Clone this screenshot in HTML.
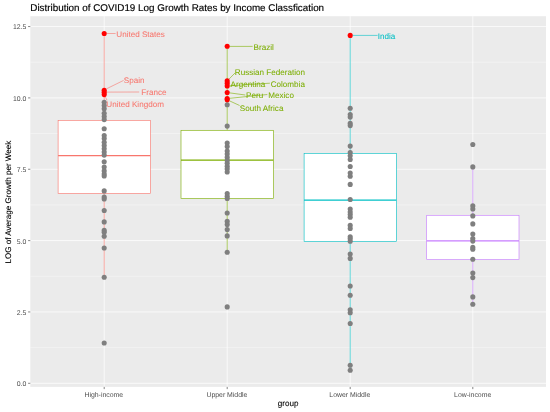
<!DOCTYPE html>
<html><head><meta charset="utf-8"><title>Distribution of COVID19 Log Growth Rates by Income Classfication</title>
<style>
html,body{margin:0;padding:0;background:#fff;}
body{width:550px;height:412px;overflow:hidden;font-family:"Liberation Sans",Arial,sans-serif;}
svg{display:block;}
text{font-family:"Liberation Sans",Arial,sans-serif;text-rendering:geometricPrecision;}
.ax{font-size:6.9px;fill:#4d4d4d;}
.at{font-size:8.1px;fill:#000;stroke:#000;stroke-width:0.1px;}
.ti{font-size:9.85px;fill:#000;stroke:#000;stroke-width:0.15px;}
.lb{font-size:8.1px;stroke-width:0.06px;}
</style></head><body>
<svg width="550" height="412" viewBox="0 0 550 412">
<rect x="0" y="0" width="550" height="412" fill="#ffffff"/>
<rect x="30.3" y="16.2" width="515.7" height="370.7" fill="#ebebeb"/>
<line x1="30.3" x2="546.0" y1="347.62" y2="347.62" stroke="#ffffff" stroke-width="0.38"/>
<line x1="30.3" x2="546.0" y1="276.28" y2="276.28" stroke="#ffffff" stroke-width="0.38"/>
<line x1="30.3" x2="546.0" y1="204.93" y2="204.93" stroke="#ffffff" stroke-width="0.38"/>
<line x1="30.3" x2="546.0" y1="133.58" y2="133.58" stroke="#ffffff" stroke-width="0.38"/>
<line x1="30.3" x2="546.0" y1="62.23" y2="62.23" stroke="#ffffff" stroke-width="0.38"/>
<line x1="30.3" x2="546.0" y1="383.30" y2="383.30" stroke="#ffffff" stroke-width="0.75"/>
<line x1="30.3" x2="546.0" y1="311.95" y2="311.95" stroke="#ffffff" stroke-width="0.75"/>
<line x1="30.3" x2="546.0" y1="240.60" y2="240.60" stroke="#ffffff" stroke-width="0.75"/>
<line x1="30.3" x2="546.0" y1="169.25" y2="169.25" stroke="#ffffff" stroke-width="0.75"/>
<line x1="30.3" x2="546.0" y1="97.90" y2="97.90" stroke="#ffffff" stroke-width="0.75"/>
<line x1="30.3" x2="546.0" y1="26.55" y2="26.55" stroke="#ffffff" stroke-width="0.75"/>
<line x1="104.2" x2="104.2" y1="16.2" y2="386.9" stroke="#ffffff" stroke-width="0.75"/>
<line x1="227.2" x2="227.2" y1="16.2" y2="386.9" stroke="#ffffff" stroke-width="0.75"/>
<line x1="350.2" x2="350.2" y1="16.2" y2="386.9" stroke="#ffffff" stroke-width="0.75"/>
<line x1="472.8" x2="472.8" y1="16.2" y2="386.9" stroke="#ffffff" stroke-width="0.75"/>
<g stroke="#F8766D" stroke-width="0.62" fill="none"><line x1="104.2" x2="104.2" y1="33.5" y2="120.4"/><line x1="104.2" x2="104.2" y1="193.5" y2="277.3"/><rect x="58.1" y="120.4" width="92.3" height="73.1" fill="#ffffff"/><line x1="58.1" x2="150.3" y1="155.5" y2="155.5" stroke-width="1.25"/></g>
<g stroke="#7CAE00" stroke-width="0.62" fill="none"><line x1="227.2" x2="227.2" y1="46.3" y2="130.3"/><line x1="227.2" x2="227.2" y1="198.5" y2="252.3"/><rect x="181.0" y="130.3" width="92.3" height="68.2" fill="#ffffff"/><line x1="181.0" x2="273.3" y1="160.1" y2="160.1" stroke-width="1.25"/></g>
<g stroke="#00BFC4" stroke-width="0.62" fill="none"><line x1="350.2" x2="350.2" y1="35.4" y2="153.4"/><line x1="350.2" x2="350.2" y1="241.4" y2="370.3"/><rect x="304.1" y="153.4" width="92.3" height="88.0" fill="#ffffff"/><line x1="304.1" x2="396.3" y1="200.2" y2="200.2" stroke-width="1.25"/></g>
<g stroke="#C77CFF" stroke-width="0.62" fill="none"><line x1="472.8" x2="472.8" y1="166.9" y2="215.3"/><line x1="472.8" x2="472.8" y1="259.4" y2="304.3"/><rect x="426.7" y="215.3" width="92.3" height="44.1" fill="#ffffff"/><line x1="426.7" x2="519.0" y1="240.9" y2="240.9" stroke-width="1.25"/></g>
<g fill="#7f7f7f"><circle cx="104.2" cy="102.2" r="2.55"/><circle cx="104.2" cy="105.5" r="2.55"/><circle cx="104.2" cy="108.7" r="2.55"/><circle cx="104.2" cy="113.2" r="2.55"/><circle cx="104.2" cy="116.6" r="2.55"/><circle cx="104.2" cy="119.6" r="2.55"/><circle cx="104.2" cy="128.8" r="2.55"/><circle cx="104.2" cy="135.6" r="2.55"/><circle cx="104.2" cy="138.5" r="2.55"/><circle cx="104.2" cy="142.3" r="2.55"/><circle cx="104.2" cy="145.6" r="2.55"/><circle cx="104.2" cy="148.8" r="2.55"/><circle cx="104.2" cy="152.0" r="2.55"/><circle cx="104.2" cy="155.1" r="2.55"/><circle cx="104.2" cy="161.7" r="2.55"/><circle cx="104.2" cy="167.1" r="2.55"/><circle cx="104.2" cy="170.9" r="2.55"/><circle cx="104.2" cy="174.0" r="2.55"/><circle cx="104.2" cy="176.0" r="2.55"/><circle cx="104.2" cy="190.9" r="2.55"/><circle cx="104.2" cy="197.0" r="2.55"/><circle cx="104.2" cy="198.9" r="2.55"/><circle cx="104.2" cy="210.5" r="2.55"/><circle cx="104.2" cy="221.9" r="2.55"/><circle cx="104.2" cy="230.4" r="2.55"/><circle cx="104.2" cy="232.3" r="2.55"/><circle cx="104.2" cy="236.2" r="2.55"/><circle cx="104.2" cy="248.0" r="2.55"/><circle cx="104.2" cy="277.3" r="2.55"/><circle cx="104.2" cy="343.0" r="2.55"/></g>
<g fill="#ff0000"><circle cx="104.2" cy="33.5" r="2.55"/><circle cx="104.2" cy="90.3" r="2.55"/><circle cx="104.2" cy="92.3" r="2.55"/><circle cx="104.2" cy="94.6" r="2.55"/></g>
<g fill="#7f7f7f"><circle cx="227.2" cy="104.7" r="2.55"/><circle cx="227.2" cy="126.1" r="2.55"/><circle cx="227.2" cy="143.0" r="2.55"/><circle cx="227.2" cy="146.6" r="2.55"/><circle cx="227.2" cy="151.0" r="2.55"/><circle cx="227.2" cy="154.1" r="2.55"/><circle cx="227.2" cy="157.4" r="2.55"/><circle cx="227.2" cy="160.6" r="2.55"/><circle cx="227.2" cy="163.2" r="2.55"/><circle cx="227.2" cy="166.3" r="2.55"/><circle cx="227.2" cy="168.9" r="2.55"/><circle cx="227.2" cy="172.0" r="2.55"/><circle cx="227.2" cy="193.5" r="2.55"/><circle cx="227.2" cy="196.2" r="2.55"/><circle cx="227.2" cy="198.5" r="2.55"/><circle cx="227.2" cy="213.0" r="2.55"/><circle cx="227.2" cy="221.4" r="2.55"/><circle cx="227.2" cy="224.6" r="2.55"/><circle cx="227.2" cy="229.6" r="2.55"/><circle cx="227.2" cy="235.9" r="2.55"/><circle cx="227.2" cy="252.3" r="2.55"/><circle cx="227.2" cy="306.9" r="2.55"/></g>
<g fill="#ff0000"><circle cx="227.2" cy="46.3" r="2.55"/><circle cx="227.2" cy="80.9" r="2.55"/><circle cx="227.2" cy="83.4" r="2.55"/><circle cx="227.2" cy="86.0" r="2.55"/><circle cx="227.2" cy="92.5" r="2.55"/><circle cx="227.2" cy="98.6" r="2.55"/><circle cx="227.2" cy="99.8" r="2.55"/></g>
<g fill="#7f7f7f"><circle cx="350.2" cy="108.2" r="2.55"/><circle cx="350.2" cy="114.5" r="2.55"/><circle cx="350.2" cy="117.1" r="2.55"/><circle cx="350.2" cy="123.4" r="2.55"/><circle cx="350.2" cy="125.6" r="2.55"/><circle cx="350.2" cy="146.1" r="2.55"/><circle cx="350.2" cy="152.6" r="2.55"/><circle cx="350.2" cy="155.8" r="2.55"/><circle cx="350.2" cy="159.5" r="2.55"/><circle cx="350.2" cy="166.5" r="2.55"/><circle cx="350.2" cy="173.0" r="2.55"/><circle cx="350.2" cy="176.2" r="2.55"/><circle cx="350.2" cy="184.4" r="2.55"/><circle cx="350.2" cy="199.5" r="2.55"/><circle cx="350.2" cy="209.0" r="2.55"/><circle cx="350.2" cy="212.1" r="2.55"/><circle cx="350.2" cy="214.6" r="2.55"/><circle cx="350.2" cy="217.2" r="2.55"/><circle cx="350.2" cy="225.4" r="2.55"/><circle cx="350.2" cy="228.5" r="2.55"/><circle cx="350.2" cy="236.7" r="2.55"/><circle cx="350.2" cy="238.8" r="2.55"/><circle cx="350.2" cy="241.3" r="2.55"/><circle cx="350.2" cy="254.0" r="2.55"/><circle cx="350.2" cy="258.4" r="2.55"/><circle cx="350.2" cy="286.0" r="2.55"/><circle cx="350.2" cy="295.2" r="2.55"/><circle cx="350.2" cy="309.7" r="2.55"/><circle cx="350.2" cy="312.8" r="2.55"/><circle cx="350.2" cy="323.5" r="2.55"/><circle cx="350.2" cy="365.3" r="2.55"/><circle cx="350.2" cy="370.3" r="2.55"/></g>
<g fill="#ff0000"><circle cx="350.2" cy="35.4" r="2.55"/></g>
<g fill="#7f7f7f"><circle cx="472.8" cy="144.5" r="2.55"/><circle cx="472.8" cy="166.9" r="2.55"/><circle cx="472.8" cy="205.9" r="2.55"/><circle cx="472.8" cy="209.0" r="2.55"/><circle cx="472.8" cy="215.9" r="2.55"/><circle cx="472.8" cy="223.9" r="2.55"/><circle cx="472.8" cy="234.1" r="2.55"/><circle cx="472.8" cy="238.6" r="2.55"/><circle cx="472.8" cy="241.1" r="2.55"/><circle cx="472.8" cy="247.4" r="2.55"/><circle cx="472.8" cy="249.2" r="2.55"/><circle cx="472.8" cy="259.3" r="2.55"/><circle cx="472.8" cy="273.1" r="2.55"/><circle cx="472.8" cy="277.6" r="2.55"/><circle cx="472.8" cy="296.9" r="2.55"/><circle cx="472.8" cy="304.3" r="2.55"/></g>
<g fill="#ff0000"></g>
<line x1="106.8" y1="33.5" x2="115.6" y2="33.5" stroke="#F8766D" stroke-width="0.6"/><text class="lb" x="140.6" y="37.2" fill="#F8766D" stroke="#F8766D" text-anchor="middle">United States</text>
<line x1="106.5" y1="88.8" x2="123.6" y2="80.4" stroke="#F8766D" stroke-width="0.6"/><text class="lb" x="134.1" y="83.2" fill="#F8766D" stroke="#F8766D" text-anchor="middle">Spain</text>
<line x1="106.8" y1="92.1" x2="139.2" y2="92.0" stroke="#F8766D" stroke-width="0.6"/><text class="lb" x="153.9" y="95.4" fill="#F8766D" stroke="#F8766D" text-anchor="middle">France</text>
<line x1="105.4" y1="97.0" x2="107.0" y2="100.2" stroke="#F8766D" stroke-width="0.6"/><text class="lb" x="135.1" y="107.0" fill="#F8766D" stroke="#F8766D" text-anchor="middle">United Kingdom</text>
<line x1="229.8" y1="46.4" x2="252.6" y2="46.4" stroke="#7CAE00" stroke-width="0.6"/><text class="lb" x="263.7" y="49.6" fill="#7CAE00" stroke="#7CAE00" text-anchor="middle">Brazil</text>
<line x1="229.0" y1="79.1" x2="235.2" y2="72.8" stroke="#7CAE00" stroke-width="0.6"/><text class="lb" x="269.9" y="74.8" fill="#7CAE00" stroke="#7CAE00" text-anchor="middle">Russian Federation</text>
<text class="lb" x="247.9" y="86.6" fill="#7CAE00" stroke="#7CAE00" text-anchor="middle">Argentina</text>
<line x1="229.8" y1="85.8" x2="269.9" y2="83.2" stroke="#7CAE00" stroke-width="0.6"/><text class="lb" x="287.8" y="86.6" fill="#7CAE00" stroke="#7CAE00" text-anchor="middle">Colombia</text>
<line x1="229.8" y1="92.9" x2="245.3" y2="95.0" stroke="#7CAE00" stroke-width="0.6"/><text class="lb" x="254.6" y="98.1" fill="#7CAE00" stroke="#7CAE00" text-anchor="middle">Peru</text>
<line x1="229.8" y1="98.3" x2="267.3" y2="94.5" stroke="#7CAE00" stroke-width="0.6"/><text class="lb" x="281.1" y="98.1" fill="#7CAE00" stroke="#7CAE00" text-anchor="middle">Mexico</text>
<line x1="229.6" y1="100.9" x2="239.6" y2="105.5" stroke="#7CAE00" stroke-width="0.6"/><text class="lb" x="261.6" y="110.5" fill="#7CAE00" stroke="#7CAE00" text-anchor="middle">South Africa</text>
<line x1="352.8" y1="35.4" x2="377.6" y2="35.4" stroke="#00BFC4" stroke-width="0.6"/><text class="lb" x="386.5" y="38.7" fill="#00BFC4" stroke="#00BFC4" text-anchor="middle">India</text>
<line x1="28.1" x2="30.3" y1="383.30" y2="383.30" stroke="#333333" stroke-width="0.6"/><text class="ax" x="26.3" y="386.20" text-anchor="end">0.0</text>
<line x1="28.1" x2="30.3" y1="311.95" y2="311.95" stroke="#333333" stroke-width="0.6"/><text class="ax" x="26.3" y="314.85" text-anchor="end">2.5</text>
<line x1="28.1" x2="30.3" y1="240.60" y2="240.60" stroke="#333333" stroke-width="0.6"/><text class="ax" x="26.3" y="243.50" text-anchor="end">5.0</text>
<line x1="28.1" x2="30.3" y1="169.25" y2="169.25" stroke="#333333" stroke-width="0.6"/><text class="ax" x="26.3" y="172.15" text-anchor="end">7.5</text>
<line x1="28.1" x2="30.3" y1="97.90" y2="97.90" stroke="#333333" stroke-width="0.6"/><text class="ax" x="26.3" y="100.80" text-anchor="end">10.0</text>
<line x1="28.1" x2="30.3" y1="26.55" y2="26.55" stroke="#333333" stroke-width="0.6"/><text class="ax" x="26.3" y="29.45" text-anchor="end">12.5</text>
<line x1="104.2" x2="104.2" y1="386.9" y2="389.1" stroke="#333333" stroke-width="0.6"/><text class="ax" x="103.8" y="396.9" text-anchor="middle">High-income</text>
<line x1="227.2" x2="227.2" y1="386.9" y2="389.1" stroke="#333333" stroke-width="0.6"/><text class="ax" x="226.9" y="396.9" text-anchor="middle">Upper Middle</text>
<line x1="350.2" x2="350.2" y1="386.9" y2="389.1" stroke="#333333" stroke-width="0.6"/><text class="ax" x="349.8" y="396.9" text-anchor="middle">Lower Middle</text>
<line x1="472.8" x2="472.8" y1="386.9" y2="389.1" stroke="#333333" stroke-width="0.6"/><text class="ax" x="472.7" y="396.9" text-anchor="middle">Low-income</text>
<text class="at" x="288.1" y="406.1" text-anchor="middle">group</text>
<text class="at" transform="translate(10.9,202.1) rotate(-90)" text-anchor="middle">LOG of Average Growth per Week</text>
<text class="ti" x="30.3" y="10.5">Distribution of COVID19 Log Growth Rates by Income Classfication</text>
</svg>
</body></html>
